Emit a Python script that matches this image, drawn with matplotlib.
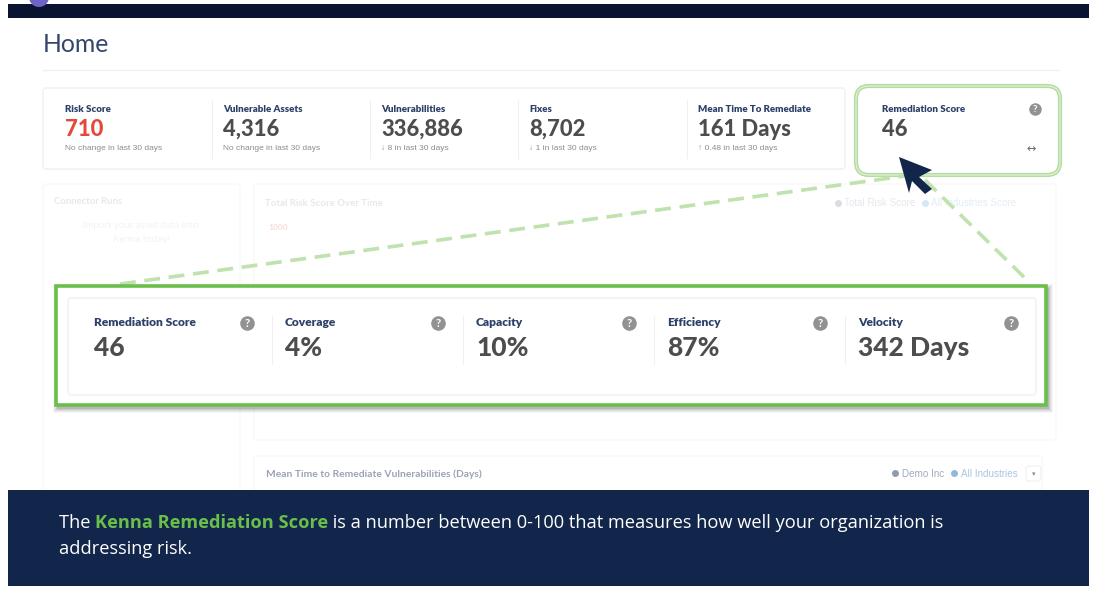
"""Kenna home dashboard slide: Remediation Score callout."""
import matplotlib

matplotlib.use("Agg")
import matplotlib.pyplot as plt
from matplotlib.patches import Circle, FancyBboxPatch, Polygon, Rectangle

plt.rcParams["font.family"] = ["Lato", "DejaVu Sans"]

# Top row of KPIs
TOP_LABELS = ["Risk Score", "Vulnerable Assets", "Vulnerabilities", "Fixes", "Mean Time To Remediate"]
TOP_VALUES = ["710", "4,316", "336,886", "8,702", "161 Days"]
TOP_NOTES = [
    "No change in last 30 days",
    "No change in last 30 days",
    "↓ 8 in last 30 days",
    "↓ 1 in last 30 days",
    "↑ 0.48 in last 30 days",
]
# Zoomed panel
PANEL_LABELS = ["Remediation Score", "Coverage", "Capacity", "Efficiency", "Velocity"]
PANEL_VALUES = ["46", "4%", "10%", "87%", "342 Days"]

TOP_X = [65, 223, 381, 529, 698]
PANEL_X = [94, 285, 476, 667, 858]

NAVY = "#12264b"
LABEL = "#2c4068"
VALUE = "#4d4d4d"
GREEN = "#6abf4b"
PALE_GREEN = "#b4dca0"
BORDER = "#ececee"
FAINT = "#e6e8ee"


def box(ax, x0, y0, x1, y1, fc="white", ec=BORDER, lw=0.8, r=3, z=1, **kw):
    patch = FancyBboxPatch((x0, y0), x1 - x0, y1 - y0, boxstyle=f"round,pad=0,rounding_size={r}",
                           fc=fc, ec=ec, lw=lw, zorder=z, **kw)
    ax.add_patch(patch)
    return patch


def help_icon(ax, x, y, size=9.5, z=6):
    ax.plot([x], [y], "o", ms=size, color="#929292", mec="none", zorder=z)
    ax.text(x, y + 0.5, "?", color="white", fontsize=size * 0.78, fontweight="bold",
            ha="center", va="center", zorder=z + 1)


fig = plt.figure(figsize=(10.98, 5.92), dpi=100)
ax = fig.add_axes([0, 0, 1, 1])
ax.set_xlim(0, 1098)
ax.set_ylim(592, 0)
ax.axis("off")

# header
ax.add_patch(Circle((39, -3), 10, fc="#6f63c8", ec="none", zorder=2, clip_on=True))
ax.add_patch(Rectangle((8, 4), 1081, 14, fc="#0a1330", ec="none", zorder=1))
ax.text(43, 45, "Home", fontsize=17.8, color="#34476b", va="center", zorder=2)
ax.plot([43, 1058], [70, 70], color="#f1f1f3", lw=1, zorder=1)

# faded dashboard behind the callouts
for x0, y0, x1, y1 in [(43, 184, 240, 500), (254, 184, 1056, 440), (254, 456, 1042, 500)]:
    box(ax, x0, y0, x1, y1, ec="#f7f7f9", lw=0.8, z=1)
ax.text(54, 201, "Connector Runs", fontsize=6.8, fontweight="bold", color=FAINT, va="center")
ax.text(141, 225, "Import your asset data into", fontsize=7, color="#f2f3f6", ha="center", va="center")
ax.text(141, 239, "Kenna today!", fontsize=7, color="#f2f3f6", ha="center", va="center")
ax.text(265, 203, "Total Risk Score Over Time", fontsize=6.9, fontweight="bold", color=FAINT, va="center")
ax.text(268, 228, "1000", fontsize=6, fontweight="bold", color="#f8dcd8", va="center")
ax.plot([838], [203], "o", ms=5, color="#d9dce2", mec="none", zorder=2)
ax.text(844, 203.5, "Total Risk Score", fontsize=7.1, color=FAINT, va="center", family="Liberation Sans")
ax.plot([925], [203], "o", ms=5, color="#d5e6f5", mec="none", zorder=2)
ax.text(931, 203.5, "All Industries Score", fontsize=7.1, color="#e3edf6", va="center", family="Liberation Sans")
ax.text(266, 474, "Mean Time to Remediate Vulnerabilities (Days)", fontsize=7.4, fontweight="bold",
        color="#9aa3b5", va="center")
ax.plot([895], [473], "o", ms=5, color="#8f9bb0", mec="none", zorder=2)
ax.text(902, 474, "Demo Inc", fontsize=7.1, color="#a3aaba", va="center", family="Liberation Sans")
ax.plot([954], [473], "o", ms=5, color="#8fb8dc", mec="none", zorder=2)
ax.text(961, 474, "All Industries", fontsize=7.1, color="#a6c6e2", va="center", family="Liberation Sans")
box(ax, 1026, 466, 1041, 481, ec="#f0f0f2", lw=0.8)
ax.text(1033.5, 474, "▾", fontsize=5, color="#8a8a8a", ha="center", va="center", family="DejaVu Sans")

# KPI row
box(ax, 43, 88, 845, 169, z=2)
for i, (x, name, val, note) in enumerate(zip(TOP_X, TOP_LABELS, TOP_VALUES, TOP_NOTES)):
    ax.text(x, 109, name, fontsize=7.05, fontweight="heavy", color=LABEL, va="center", zorder=3)
    ax.text(x, 129.5, val, fontsize=15.8, fontweight="black", color="#e5483a" if i == 0 else VALUE,
            va="center", zorder=3)
    ax.text(x, 149, note, fontsize=6.05, color="#8c8c8c", va="center", zorder=3, family="Liberation Sans")
    if i:
        ax.plot([x - 11, x - 11], [100, 158], color="#f0f0f2", lw=0.8, zorder=3)

# dashed connectors
ax.plot([120, 905], [284, 176], color="#bfe2ae", lw=2.6, dashes=(4.4, 2.4), zorder=4)
ax.plot([925, 1030], [180, 283], color="#bfe2ae", lw=2.6, dashes=(4.4, 2.4), zorder=4)

# highlighted remediation card, double green ring
box(ax, 856, 86, 1060, 175, ec=PALE_GREEN, lw=3, r=13, z=3)
box(ax, 856, 86, 1060, 175, fc="none", ec="#eaf6e4", lw=0.7, r=13, z=3)
ax.text(882, 109, PANEL_LABELS[0], fontsize=7.05, fontweight="heavy", color=LABEL, va="center", zorder=5)
ax.text(882, 129.5, PANEL_VALUES[0], fontsize=15.8, fontweight="black", color=VALUE, va="center", zorder=5)
help_icon(ax, 1035, 109, size=9)
ax.text(1031, 149, "↔", fontsize=8, color="#666666", ha="center", va="center", zorder=5, family="DejaVu Sans")

# cursor arrow
ax.add_patch(Polygon([(899, 157), (932, 170), (919, 177), (932, 189), (925, 194), (912, 181), (909, 193)],
                     closed=True, fc=NAVY, ec="none", zorder=6))

# zoomed panel with soft shadow
for grow, alpha in [(5, 0.05), (4, 0.07), (3, 0.09), (2, 0.12), (1, 0.16)]:
    ax.add_patch(Rectangle((58 - grow, 289 - grow), 990 + 2 * grow, 119 + 2 * grow, fc="#555555", ec="none",
                           alpha=alpha, zorder=4))
ax.add_patch(Rectangle((56, 286), 990, 119, fc="white", ec=GREEN, lw=2.6, zorder=5))
box(ax, 68, 298, 1036, 395, ec="#eeeef0", lw=0.9, z=5)
for i, (x, name, val) in enumerate(zip(PANEL_X, PANEL_LABELS, PANEL_VALUES)):
    ax.text(x, 322.5, name, fontsize=8.65, fontweight="heavy", color=LABEL, va="center", zorder=6)
    ax.text(x, 347.5, val, fontsize=19, fontweight="black", color=VALUE, va="center", zorder=6)
    help_icon(ax, x + 153, 323, size=10.5)
    if i:
        ax.plot([x - 13, x - 13], [316, 364], color="#f0f0f2", lw=0.8, zorder=6)

# footer banner
ax.add_patch(Rectangle((8, 490), 1081, 96, fc=NAVY, ec="none", zorder=7))
fig.canvas.draw()
renderer = fig.canvas.get_renderer()
x = 59
for part, color, weight in [("The ", "white", "normal"), ("Kenna Remediation Score", GREEN, "bold"),
                            (" is a number between 0-100 that measures how well your organization is", "white", "normal")]:
    t = ax.text(x, 522.5, part.replace(" ", "\u00a0"), fontsize=13.15, color=color, fontweight=weight, va="center",
                zorder=8, family=["Open Sans", "DejaVu Sans"])
    bb = t.get_window_extent(renderer)
    x = ax.transData.inverted().transform((bb.x1, bb.y0))[0]
ax.text(59, 548.5, "addressing risk.", fontsize=13.15, color="white", va="center", zorder=8,
        family=["Open Sans", "DejaVu Sans"])

fig.savefig("out.png", dpi=100)
